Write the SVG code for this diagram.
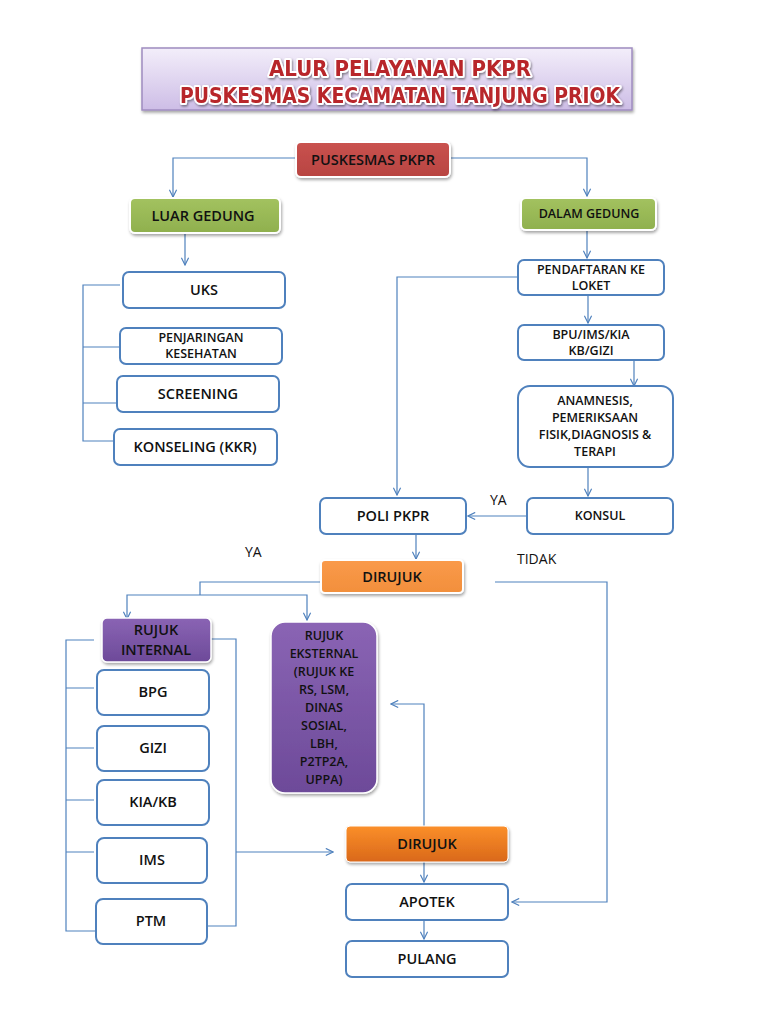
<svg xmlns="http://www.w3.org/2000/svg" width="768" height="1024" viewBox="0 0 768 1024">
<defs>
<linearGradient id="gTitle" x1="0" y1="0" x2="0" y2="1"><stop offset="0" stop-color="#f3eefa"/><stop offset="1" stop-color="#cdbde6"/></linearGradient>
<linearGradient id="gRed" x1="0" y1="0" x2="0" y2="1"><stop offset="0" stop-color="#c9524f"/><stop offset="1" stop-color="#b84441"/></linearGradient>
<linearGradient id="gGreen" x1="0" y1="0" x2="0" y2="1"><stop offset="0" stop-color="#a3c25f"/><stop offset="1" stop-color="#8fb04e"/></linearGradient>
<linearGradient id="gOrange" x1="0" y1="0" x2="0" y2="1"><stop offset="0" stop-color="#fa9a4a"/><stop offset="1" stop-color="#f28f3c"/></linearGradient>
<linearGradient id="gOrange2" x1="0" y1="0" x2="0" y2="1"><stop offset="0" stop-color="#fb8f2a"/><stop offset="1" stop-color="#d9681a"/></linearGradient>
<linearGradient id="gPurple" x1="0" y1="0" x2="0" y2="1"><stop offset="0" stop-color="#8a64b4"/><stop offset="1" stop-color="#6d4a99"/></linearGradient>
<filter id="sh" x="-10%" y="-10%" width="130%" height="140%"><feDropShadow dx="1" dy="2" stdDeviation="1.5" flood-color="#000" flood-opacity="0.35"/></filter>
<filter id="tsh" x="-5%" y="-20%" width="110%" height="150%"><feDropShadow dx="1" dy="1.5" stdDeviation="1" flood-color="#000" flood-opacity="0.45"/></filter>
<marker id="ar" viewBox="0 0 10 10" refX="9" refY="5" markerWidth="9" markerHeight="9" orient="auto" markerUnits="userSpaceOnUse"><path d="M1,1 L9,5 L1,9" fill="none" stroke="#4f81bd" stroke-width="1.3"/></marker>
</defs>
<style>
.b{fill:#fff;stroke:#4f81bd;stroke-width:2}
.c{fill:none;stroke:#4f81bd;stroke-width:1.2}
.ca{fill:none;stroke:#4f81bd;stroke-width:1.2;marker-end:url(#ar)}
.t{font-family:"Open Sans","Liberation Sans",sans-serif;font-size:14.5px;fill:#111;text-anchor:middle;font-weight:600}
.ts{font-family:"Open Sans","Liberation Sans",sans-serif;font-size:12.5px;fill:#111;text-anchor:middle;font-weight:600}
.tt{font-family:"DejaVu Sans",sans-serif;font-weight:bold;font-size:21px;fill:#b8262a;stroke:#fff;stroke-width:4;paint-order:stroke;text-anchor:middle;stroke-linejoin:round}
.lbl{font-family:"Open Sans","Liberation Sans",sans-serif;font-size:14px;fill:#111}
</style>
<rect width="768" height="1024" fill="#fff"/>
<g id="title">
<rect x="142" y="48" width="490" height="62" fill="url(#gTitle)" stroke="#9f8cc0" stroke-width="1.5" filter="url(#sh)"/>
<g filter="url(#tsh)">
<text class="tt" x="400" y="76" textLength="262" lengthAdjust="spacingAndGlyphs">ALUR PELAYANAN PKPR</text>
<text class="tt" x="400" y="103" textLength="440" lengthAdjust="spacingAndGlyphs">PUSKESMAS KECAMATAN TANJUNG PRIOK</text>
</g>
</g>
<g id="connectors">
<path class="ca" d="M296,158 H173 V197"/>
<path class="ca" d="M450,158 H587 V196"/>
<path class="ca" d="M185,233 V265"/>
<path class="c" d="M120,285 H83 V441 H114 M83,347 H120 M83,403 H117"/>
<path class="ca" d="M587,230 V258"/>
<path class="ca" d="M518,277 H397 V495"/>
<path class="ca" d="M588,295 V323"/>
<path class="ca" d="M634,360 V386"/>
<path class="ca" d="M588,467 V496"/>
<path class="ca" d="M527,516 H468"/>
<path class="ca" d="M416,534 V559"/>
<path class="c" d="M321,582 H200 V595"/>
<path class="ca" d="M200,595 H127 V619"/>
<path class="ca" d="M200,595 H307 V620"/>
<path class="ca" d="M495,582 H607 V902 H512"/>
<path class="c" d="M94,640 H66 V931 H96 M66,688 H94 M66,748 H94 M66,800 H94 M66,852 H94"/>
<path class="c" d="M211,639 H236 V926 H207"/>
<path class="ca" d="M236,852 H333"/>
<path class="ca" d="M424,826 V704 H391"/>
<path class="ca" d="M424,862 V882"/>
<path class="ca" d="M424,920 V939"/>
</g>
<g id="puskesmas"><rect x="296" y="142" width="154" height="35" rx="5" fill="url(#gRed)" stroke="#fff" stroke-width="2" filter="url(#sh)"/><text class="t" x="373" y="165" font-weight="normal">PUSKESMAS PKPR</text></g>
<g id="luar"><rect x="130" y="198" width="150" height="35" rx="5" fill="url(#gGreen)" stroke="#fff" stroke-width="2" filter="url(#sh)"/><text class="t" x="203" y="221">LUAR GEDUNG</text></g>
<g id="dalam"><rect x="521" y="198" width="135" height="32" rx="5" fill="url(#gGreen)" stroke="#fff" stroke-width="2" filter="url(#sh)"/><text class="ts" x="589" y="218">DALAM GEDUNG</text></g>
<g id="uks"><rect class="b" x="123" y="272" width="162" height="36" rx="6"/><text class="t" x="204" y="295">UKS</text></g>
<g id="penjaringan"><rect class="b" x="120" y="328" width="162" height="36" rx="6"/><text class="ts" x="201" y="342">PENJARINGAN</text><text class="ts" x="201" y="358">KESEHATAN</text></g>
<g id="screening"><rect class="b" x="117" y="376" width="162" height="36" rx="6"/><text class="t" x="198" y="399">SCREENING</text></g>
<g id="konseling"><rect class="b" x="114" y="429" width="163" height="36" rx="6"/><text class="t" x="195" y="452">KONSELING  (KKR)</text></g>
<g id="pendaftaran"><rect class="b" x="518" y="260" width="146" height="35" rx="6"/><text class="ts" x="591" y="274">PENDAFTARAN KE</text><text class="ts" x="591" y="290">LOKET</text></g>
<g id="bpu"><rect class="b" x="518" y="325" width="146" height="35" rx="6"/><text class="ts" x="591" y="339">BPU/IMS/KIA</text><text class="ts" x="591" y="355">KB/GIZI</text></g>
<g id="anamnesis"><rect class="b" x="518" y="386" width="155" height="81" rx="12"/><text class="ts" x="595" y="405">ANAMNESIS,</text><text class="ts" x="595" y="422">PEMERIKSAAN</text><text class="ts" x="595" y="439">FISIK,DIAGNOSIS &amp;</text><text class="ts" x="595" y="456">TERAPI</text></g>
<g id="konsul"><rect class="b" x="527" y="498" width="146" height="36" rx="6"/><text class="ts" x="600" y="520">KONSUL</text></g>
<g id="poli"><rect class="b" x="320" y="498" width="146" height="36" rx="6"/><text class="t" x="393" y="521" font-weight="normal">POLI PKPR</text></g>
<text class="lbl" x="490" y="505">YA</text>
<text class="lbl" x="245" y="557">YA</text>
<text class="lbl" x="517" y="564">TIDAK</text>
<g id="dirujuk1"><rect x="321" y="560" width="142" height="33" rx="4" fill="url(#gOrange)" stroke="#fff" stroke-width="2" filter="url(#sh)"/><text class="t" x="392" y="582">DIRUJUK</text></g>
<g id="rujukinternal"><rect x="102" y="618" width="109" height="44" rx="5" fill="url(#gPurple)" stroke="#fff" stroke-width="1.5" filter="url(#sh)"/><text class="t" x="156" y="635">RUJUK</text><text class="t" x="156" y="655">INTERNAL</text></g>
<g id="rujukeksternal"><rect x="271" y="622" width="106" height="171" rx="14" fill="url(#gPurple)" stroke="#fff" stroke-width="1.5" filter="url(#sh)"/><text class="ts" x="324" y="640">RUJUK</text><text class="ts" x="324" y="658">EKSTERNAL</text><text class="ts" x="324" y="676">(RUJUK KE</text><text class="ts" x="324" y="694">RS, LSM,</text><text class="ts" x="324" y="712">DINAS</text><text class="ts" x="324" y="730">SOSIAL,</text><text class="ts" x="324" y="748">LBH,</text><text class="ts" x="324" y="766">P2TP2A,</text><text class="ts" x="324" y="784">UPPA)</text></g>
<g id="bpg"><rect class="b" x="97" y="670" width="112" height="45" rx="7"/><text class="t" x="153" y="697">BPG</text></g>
<g id="gizi"><rect class="b" x="97" y="726" width="112" height="45" rx="7"/><text class="t" x="153" y="753">GIZI</text></g>
<g id="kiakb"><rect class="b" x="97" y="780" width="112" height="45" rx="7"/><text class="t" x="153" y="807">KIA/KB</text></g>
<g id="ims"><rect class="b" x="97" y="838" width="110" height="45" rx="7"/><text class="t" x="152" y="865">IMS</text></g>
<g id="ptm"><rect class="b" x="96" y="899" width="111" height="45" rx="7"/><text class="t" x="151" y="926">PTM</text></g>
<g id="dirujuk2"><rect x="346" y="826" width="162" height="36" rx="4" fill="url(#gOrange2)" stroke="#fff" stroke-width="1" filter="url(#sh)"/><text class="t" x="427" y="849">DIRUJUK</text></g>
<g id="apotek"><rect class="b" x="346" y="884" width="162" height="36" rx="6"/><text class="t" x="427" y="907">APOTEK</text></g>
<g id="pulang"><rect class="b" x="346" y="941" width="162" height="36" rx="6"/><text class="t" x="427" y="964">PULANG</text></g>
</svg>
